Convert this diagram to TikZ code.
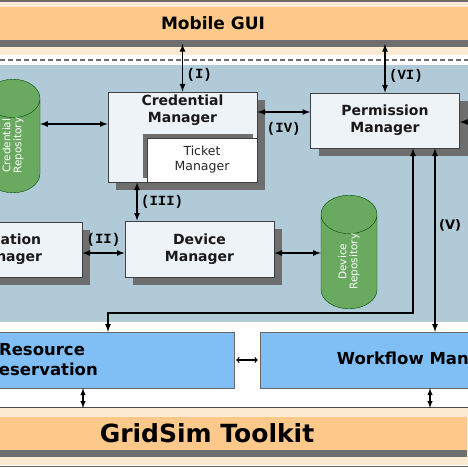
\documentclass[tikz,border=0pt]{standalone}
\usepackage{fontspec}
\setmainfont{DejaVu Sans}
\setmonofont{Liberation Mono}
\usetikzlibrary{calc,arrows,shapes.geometric,shadows,positioning}

\definecolor{guiorange}{HTML}{FCC98B}
\definecolor{peach}{HTML}{FDEAD3}
\definecolor{bandgray}{HTML}{6E6E6E}
\definecolor{panelblue}{HTML}{B1CAD7}
\definecolor{boxfill}{HTML}{EEF3F8}
\definecolor{skyblue}{HTML}{80BEF6}
\definecolor{repogreen}{HTML}{6AAA60}

\newcommand{\repotext}[2]{\rotatebox{90}{\shortstack{#1\\#2}}}

\tikzset{
  mgr/.style={draw=black!75,fill=boxfill,line width=0.8pt,minimum width=149pt,minimum height=55pt,align=center,
    font=\fontsize{14}{17}\selectfont\bfseries,text=black!90,
    drop shadow={shadow xshift=8pt,shadow yshift=-8pt,fill=bandgray,opacity=1}},
  repo/.style={cylinder,shape border rotate=90,draw=green!30!black,fill=repogreen,aspect=1.8,text=white,
    font=\fontsize{10.5}{13.5}\selectfont,inner sep=0pt,anchor=shape center},
  band/.style={fill=guiorange,minimum width=520pt,minimum height=33pt,
    drop shadow={shadow xshift=0pt,shadow yshift=-7pt,fill=bandgray,opacity=1}},
  lay/.style={draw=black!60,fill=skyblue,minimum height=56pt,align=center,font=\fontsize{16.5}{20}\selectfont\bfseries},
  arr/.style={latex-latex,line width=1.6pt},
  rom/.style={font=\fontsize{14}{14}\selectfont\ttfamily\bfseries},
  romsans/.style={font=\fontsize{13}{13}\selectfont\bfseries}
}

\begin{document}
\begin{tikzpicture}[x=1pt,y=-1pt]
  \useasboundingbox (0,0) rectangle (468,468);
  \clip (0,0) rectangle (468,468);
  \fill[white] (0,0) rectangle (468,468);
  % backgrounds
  \fill[peach] (0,2) rectangle (468,55);
  \fill[bandgray] (0,0) rectangle (468,2);
  \draw[bandgray,line width=1.4pt,dash pattern=on 5pt off 3pt] (0,60) -- (468,60);
  \fill[panelblue] (0,65) rectangle (468,322);
  \fill[peach] (0,408) rectangle (468,465);
  \draw[black!70] (0,407.5) -- (468,407.5);
  \draw[black!60] (0,466) -- (468,466);

  % layers
  \node[band,font=\fontsize{17}{20}\selectfont\bfseries](gui)at(213,23.5){Mobile GUI};
  \node[band,font=\fontsize{25}{28}\selectfont\bfseries](grid)at(207,433.5){GridSim Toolkit};
  \node[lay,minimum width=384pt](res)at(42,360){Resource\\Reservation};
  \node[lay,minimum width=328pt](work)at(424,360){Workflow Manager};

  % managers
  \node[mgr,minimum height=90pt,label={[anchor=north,align=center,font=\fontsize{14}{17}\selectfont\bfseries,text=black!90]north:Credential\\Manager}](cred)at(182.5,137){};
  \node[draw=black!75,fill=white,minimum width=110pt,minimum height=44pt,align=center,font=\fontsize{12.5}{15}\selectfont,text=black!85,
    drop shadow={shadow xshift=-4pt,shadow yshift=4pt,fill=bandgray,opacity=1}](ticket)at(202,160){Ticket\\Manager};
  \node[mgr](perm)at(385,120.5){Permission\\Manager};
  \node[mgr](loc)at(7.5,249.5){Location\\Manager};
  \node[mgr,minimum height=56pt](dev)at(199.5,249){Device\\Manager};

  % repositories
  \node[repo,minimum width=54pt,minimum height=112pt](credrepo)at(13,136){\repotext{Credential}{Repository}};
  \node[repo,minimum width=56pt,minimum height=110pt](devrepo)at(349,252){\repotext{Device}{Repository}};

  % connectors
  \coordinate(guib)at(0,44);
  \coordinate(c3)at(137,0);
  \coordinate(c5a)at(413,0);
  \coordinate(c5b)at(435,0);
  \coordinate(r5)at(0,313);
  \coordinate(c1)at(108,0);
  \coordinate(gtop)at(0,408);
  \coordinate(c0)at(83,0);
  \coordinate(c6)at(430,0);
  \coordinate(pr)at(472,122);
  \coordinate(rc)at(0,124);
  \coordinate(rd)at(0,253);

  \draw[arr](guib -| cred.north)--(cred.north) node[pos=0.65,right,rom]{(I)};
  \draw[arr](guib -| perm.north)--(perm.north) node[pos=0.65,right,rom]{(VI)};
  \draw[arr]([yshift=25pt]cred.east)--([yshift=8.5pt]perm.west) node[midway,below=6pt,rom]{(IV)};
  \draw[arr](credrepo.east |- rc)--(cred.west |- rc);
  \draw[arr](cred.south -| c3)--(dev.north -| c3) node[midway,right,rom]{(III)};
  \draw[arr](loc.east |- rd)--(dev.west |- rd) node[midway,above=2pt,rom]{(II)};
  \draw[arr](dev.east |- rd)--(devrepo.west |- rd);
  \draw[-latex,line width=1.6pt](pr)--(perm.east |- pr);
  \draw[arr](perm.south -| c5a)--(r5 -| c5a)-|(res.north -| c1);
  \draw[arr](perm.south -| c5b)--(work.north -| c5b) node[pos=0.42,right,romsans]{(V)};
  \draw[<->,line width=1.2pt,shorten >=2pt,shorten <=2pt](res.east)--(work.west);
  \draw[arr,line width=1.4pt](res.south -| c0)--(gtop -| c0);
  \draw[arr,line width=1.4pt](work.south -| c6)--(gtop -| c6);
\end{tikzpicture}
\end{document}
